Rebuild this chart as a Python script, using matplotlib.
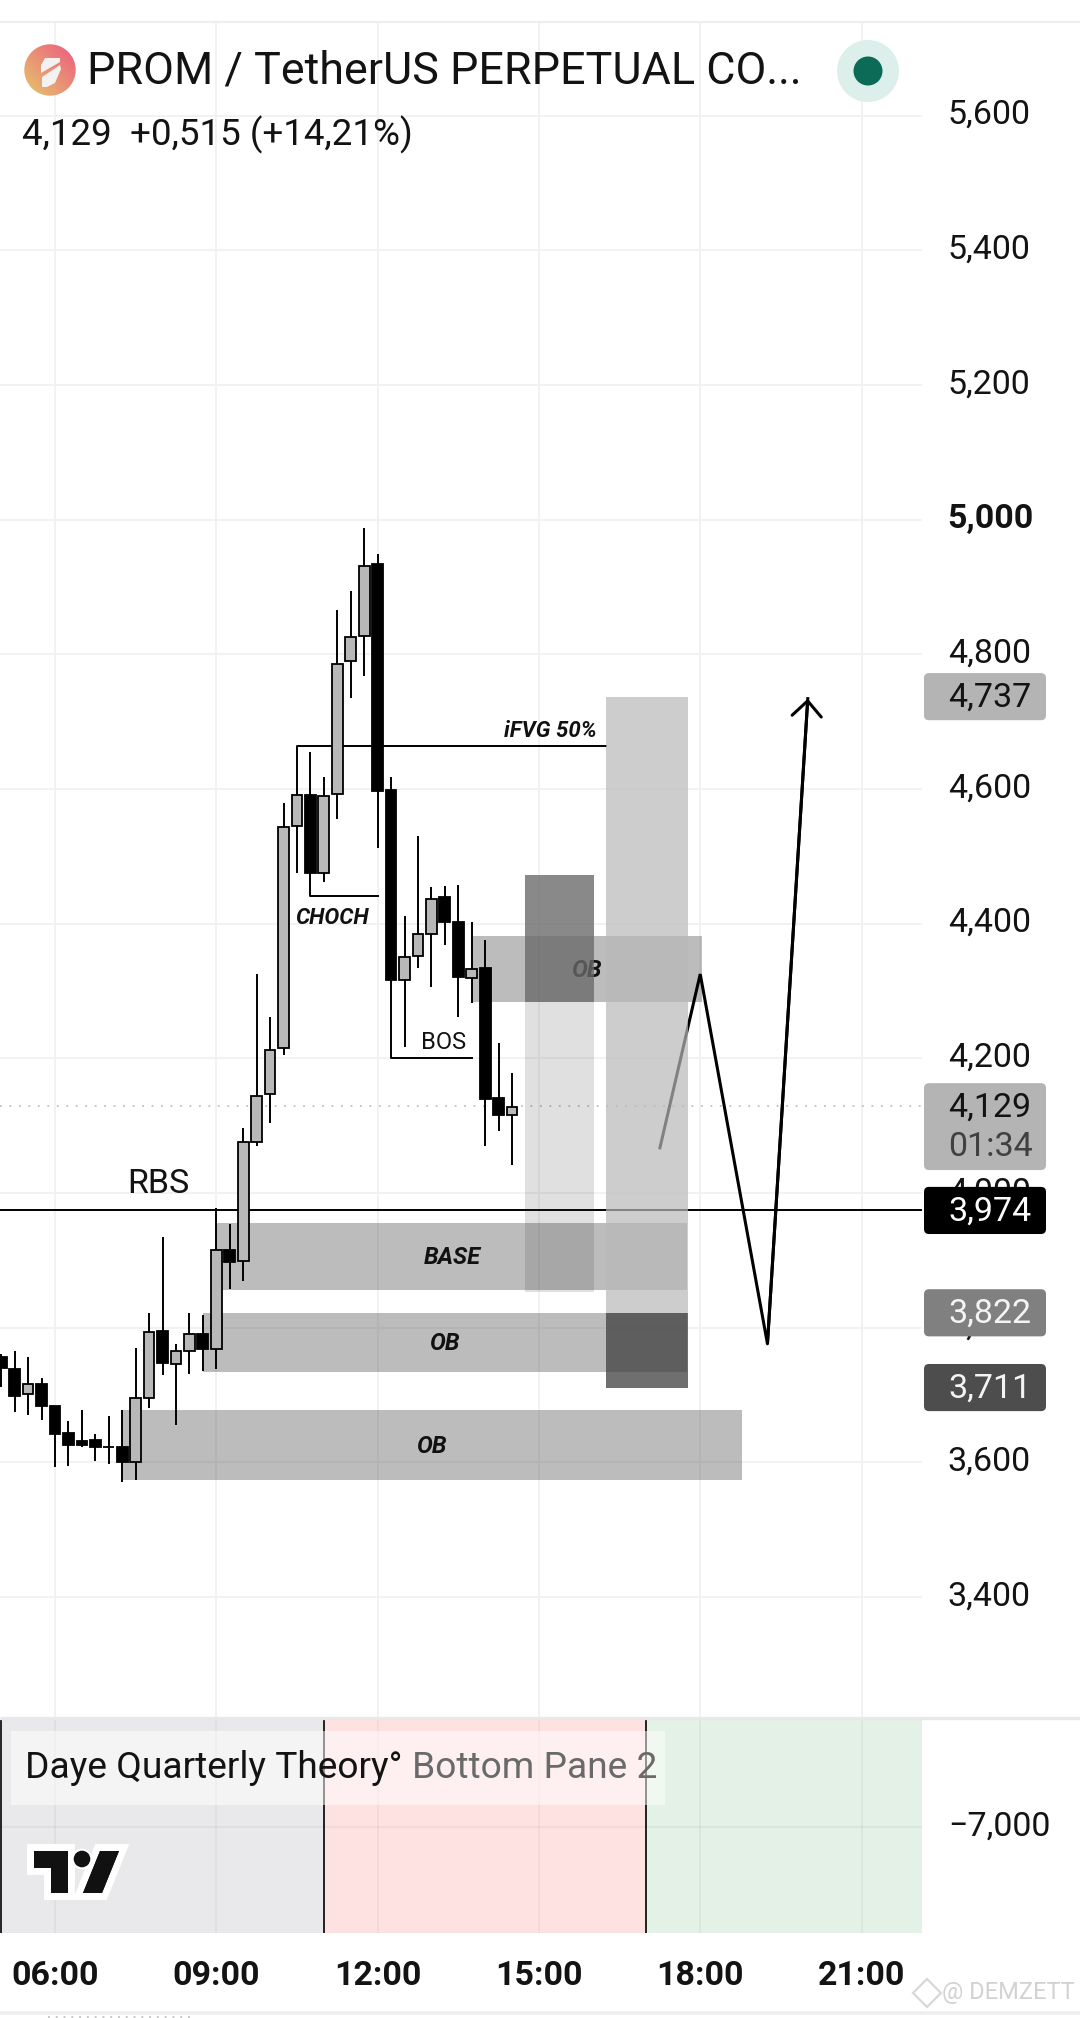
import numpy as np
import matplotlib
matplotlib.use("Agg")
import matplotlib.pyplot as plt
import matplotlib.patheffects as pe
from matplotlib.patches import Circle, FancyBboxPatch, Polygon, Rectangle
from matplotlib.transforms import ScaledTranslation

plt.rcParams["font.family"] = ["Roboto", "DejaVu Sans"]

W, H = 1080, 2018
TEXT = "#131313"

# 15 minute candles, x is hour of day
candle_hours = [5.0, 5.25, 5.5, 5.75, 6.0, 6.25, 6.5, 6.75, 7.0, 7.25, 7.5, 7.75,
                8.0, 8.25, 8.5, 8.75, 9.0, 9.25, 9.5, 9.75, 10.0, 10.25, 10.5, 10.75,
                11.0, 11.25, 11.5, 11.75, 12.0, 12.25, 12.5, 12.75, 13.0, 13.25,
                13.5, 13.75, 14.0, 14.25, 14.5]
opens = [3756, 3739, 3702, 3716, 3684, 3644, 3631, 3633, 3622, 3622, 3601, 3696,
         3795, 3746, 3765, 3790, 3768, 3915, 3899, 4076, 4147, 4215, 4545, 4591,
         4475, 4592, 4790, 4827, 4934, 4598, 4316, 4352, 4385, 4439,
         4403, 4319, 4334, 4141, 4115]
closes = [3740, 3699, 3717, 3684, 3642, 3625, 3626, 3623, 3623, 3601, 3696, 3794,
          3747, 3766, 3790, 3768, 3916, 3897, 4075, 4144, 4212, 4544, 4591, 4475,
          4590, 4786, 4826, 4931, 4597, 4316, 4351, 4384, 4437, 4403,
          4320, 4333, 4140, 4115, 4127]
highs = [3761, 3765, 3756, 3725, 3684, 3661, 3678, 3642, 3669, 3677, 3769, 3821,
         3934, 3776, 3821, 3819, 3978, 3954, 4096, 4325, 4261, 4579, 4591, 4655,
         4617, 4866, 4894, 4988, 4949, 4617, 4411, 4530, 4454, 4456,
         4457, 4403, 4375, 4223, 4178]
lows = [3712, 3674, 3670, 3663, 3593, 3595, 3622, 3602, 3597, 3571, 3573, 3681,
        3730, 3655, 3731, 3735, 3739, 3857, 3869, 4070, 4104, 4205, 4475, 4475,
        4462, 4555, 4735, 4768, 4512, 4316, 4217, 4334, 4306, 4368,
        4262, 4282, 4070, 4092, 4042]

# zones: start hour, end hour, bottom price, top price
ob_zones = [(7.25, 18.77, 3573, 3678),
            (8.75, 17.75, 3734, 3821),
            (9.0, 17.75, 3856, 3955),
            (13.75, 18.03, 4283, 4381)]
zone_labels = ["OB", "OB", "BASE", "OB"]
zone_label_x = [12.99, 13.24, 13.38, 15.89]
zone_label_y = [3623, 3776, 3904, 4330]

left_tool_x = (14.74, 16.02)
left_tool_prices = (3853, 4283, 4472)
right_tool_x = (16.25, 17.77)
right_tool_prices = (3711, 3822, 4737)

path_hours = [17.25, 18.0, 19.25, 20.0]
path_prices = [4067, 4325, 3776, 4734]

rbs_price = 3974
last_price = 4129
ifvg_x = [10.5, 10.5, 16.25]
ifvg_y = [4591, 4663, 4663]
choch_x = [10.75, 10.75, 12.0]
choch_y = [4475, 4441, 4441]
bos_x = [12.25, 12.25, 13.75]
bos_y = [4316, 4201, 4201]

price_ticks = [5600, 5400, 5200, 5000, 4800, 4600, 4400, 4200, 4000, 3800, 3600, 3400]
time_ticks = [6, 9, 12, 15, 18, 21]
time_labels = ["06:00", "09:00", "12:00", "15:00", "18:00", "21:00"]

session_edges = [5, 11, 17, 22.2]
session_colors = ["#e9e9eb", "#fee2e2", "#e3f1e6"]

price_tags = [(4737, "4,737", "#b4b4b4", TEXT), (3974, "3,974", "#000000", "#ffffff"),
              (3822, "3,822", "#808080", "#f4f4f4"), (3711, "3,711", "#4d4d4d", "#f4f4f4")]

# pixel calibration
PX_PER_HOUR = 53.77
PX_PER_PRICE = 0.6734
PANE_R = 922
TOP, MAIN_B = 22, 1718
SUB_T, SUB_B = 1720, 1933
x0 = 6 - 55 / PX_PER_HOUR
x1 = 6 + (PANE_R - 55) / PX_PER_HOUR
y_top = 5600 + (115.5 - TOP) / PX_PER_PRICE
y_bot = 5600 - (MAIN_B - 115.5) / PX_PER_PRICE

fig = plt.figure(figsize=(W / 100, H / 100), dpi=100, facecolor="white")
# scale labels sit a little above their gridline
lift = ScaledTranslation(0, 4 / 100, fig.dpi_scale_trans)


def add_axes_px(left, top, right, bottom, **kw):
    return fig.add_axes([left / W, 1 - bottom / H, (right - left) / W, (bottom - top) / H], **kw)


ax = add_axes_px(0, TOP, PANE_R, MAIN_B)
ax.set_xlim(x0, x1)
ax.set_ylim(y_bot, y_top)
for s in ax.spines.values():
    s.set_visible(False)
ax.set_xticks(time_ticks)
ax.set_xticklabels([])
ax.set_yticks(price_ticks)
ax.yaxis.tick_right()
ax.set_yticklabels([f"{p:,}" for p in price_ticks], fontsize=24.5, color=TEXT)
ax.tick_params(length=0)
ax.tick_params(axis="y", pad=18.5)
for p, tick in zip(price_ticks, ax.yaxis.get_major_ticks()):
    tick.label2.set_transform(tick.label2.get_transform() + lift)
    if p == 5000:
        tick.label2.set_fontweight("bold")
ax.grid(True, color="#f1f1f1", lw=1.3)
ax.set_axisbelow(True)

# zones sit under the candles
for (a, b, lo, hi) in ob_zones:
    ax.add_patch(Rectangle((a, lo), b - a, hi - lo, fc="#646464", alpha=0.43, lw=0, zorder=2))
for name, zx, zy in zip(zone_labels, zone_label_x, zone_label_y):
    ax.text(zx, zy, name, fontsize=17, fontweight="bold", fontstyle="italic", color="#111111",
            ha="center", va="center", zorder=3)

ax.axhline(last_price, color="#b5b5b5", lw=1.1, ls=(0, (1.2, 5)), zorder=3)
ax.axhline(rbs_price, color="black", lw=1.4, zorder=3)
ax.plot(path_hours, path_prices, color="black", lw=2.2, solid_joinstyle="miter", zorder=6)
ax.annotate("", xy=(path_hours[-1], path_prices[-1]), xytext=(path_hours[-2], path_prices[-2]),
            arrowprops=dict(arrowstyle="->,head_length=11,head_width=10.5", color="black", lw=2.2,
                            mutation_scale=1, shrinkA=0, shrinkB=0), zorder=6)

ax.plot(ifvg_x, ifvg_y, color="black", lw=1.4, zorder=3)
ax.plot(choch_x, choch_y, color="black", lw=1.4, zorder=3)
ax.plot(bos_x, bos_y, color="black", lw=1.4, zorder=3)

# candles
hours = np.array(candle_hours)
o, c = np.array(opens), np.array(closes)
up = c > o
ax.vlines(hours, lows, highs, color="black", lw=1.4, zorder=4)
ax.bar(hours, np.abs(c - o), width=0.2, bottom=np.minimum(o, c),
       color=["#b8b8b8" if u else "black" for u in up], edgecolor="black", lw=1.3, zorder=5)

# position tools go over everything else, arrow shows dim through them
t_lo, t_mid, t_hi = left_tool_prices
ax.add_patch(Rectangle((left_tool_x[0], t_mid), np.diff(left_tool_x)[0], t_hi - t_mid,
                       fc="#6a6a6a", alpha=0.79, lw=0, zorder=7))
ax.add_patch(Rectangle((left_tool_x[0], t_lo), np.diff(left_tool_x)[0], t_mid - t_lo,
                       fc="#323232", alpha=0.15, lw=0, zorder=7))
t_lo, t_mid, t_hi = right_tool_prices
ax.add_patch(Rectangle((right_tool_x[0], t_mid), np.diff(right_tool_x)[0], t_hi - t_mid,
                       fc="#b9b9b9", alpha=0.7, lw=0, zorder=7))
ax.add_patch(Rectangle((right_tool_x[0], t_lo), np.diff(right_tool_x)[0], t_mid - t_lo,
                       fc="#3d3d3d", alpha=0.74, lw=0, zorder=7))

ax.text(7.92, 4013, "RBS", fontsize=24.5, color=TEXT, ha="center", va="center", zorder=8)
ax.text(15.22, 4686, "iFVG 50%", fontsize=16, fontweight="bold", fontstyle="italic", color="#111111",
        ha="center", va="center", zorder=8)
ax.text(11.15, 4409, "CHOCH", fontsize=16, fontweight="bold", fontstyle="italic", color="#111111",
        ha="center", va="center", zorder=8)
ax.text(13.22, 4224, "BOS", fontsize=17, color=TEXT, ha="center", va="center", zorder=8)

# bottom pane
sub = add_axes_px(0, SUB_T, PANE_R, SUB_B)
sub.set_xlim(x0, x1)
sub.set_ylim(-8063, -5933)
for s in sub.spines.values():
    s.set_visible(False)
for i, col in enumerate(session_colors):
    sub.axvspan(session_edges[i], session_edges[i + 1], color=col, lw=0, zorder=0)
sub.vlines(session_edges[:3], -8063, -5933, color="black", lw=1.2, zorder=2)
sub.set_xticks(time_ticks)
sub.set_xticklabels(time_labels, fontsize=24.5, fontweight="bold", color=TEXT)
sub.set_yticks([-7000])
sub.yaxis.tick_right()
sub.set_yticklabels(["\u22127,000"], fontsize=24.5, color=TEXT)
sub.tick_params(length=0)
sub.tick_params(axis="y", pad=19)
sub.tick_params(axis="x", pad=19.5)
for tick in sub.yaxis.get_major_ticks():
    tick.label2.set_transform(tick.label2.get_transform() + lift)
sub.grid(True, color="#000000", alpha=0.045, lw=1.3, zorder=1)
sub.set_axisbelow(False)

# price tags on the scale, same y scale as the main pane
scale = add_axes_px(PANE_R, TOP, W, MAIN_B)
scale.set_xlim(PANE_R, W)
scale.set_ylim(y_bot, y_top)
scale.axis("off")
asp = 1 / PX_PER_PRICE
for price, label, bg, fg in price_tags:
    scale.add_patch(FancyBboxPatch((924, price - 35), 122, 70, mutation_aspect=asp, fc=bg, lw=0,
                                   boxstyle="round,pad=0,rounding_size=5"))
    scale.text(948, price + 4, label, fontsize=24.5, color=fg, ha="left", va="center_baseline")
scale.add_patch(FancyBboxPatch((924, last_price - 95), 122, 129, mutation_aspect=asp, fc="#b4b4b4", lw=0,
                               boxstyle="round,pad=0,rounding_size=5"))
scale.text(948, last_price + 3, "4,129", fontsize=24.5, color=TEXT, ha="left", va="center_baseline")
scale.text(948, last_price - 56, "01:34", fontsize=24.5, color="#404040", ha="left", va="center_baseline")

# header and other chrome in pixel coordinates
ui = fig.add_axes([0, 0, 1, 1])
ui.set_xlim(0, W)
ui.set_ylim(H, 0)
ui.axis("off")
ui.hlines(22, 0, W, color="#eeeeee", lw=1.6)
ui.hlines(1718, 0, W, color="#e8e8e8", lw=2.4)
ui.hlines(2013, 0, W, color="#eeeeee", lw=2.6)
ui.hlines(2017, 48, 193, color="#c8c8c8", lw=1.4, ls=(0, (1, 3)))

# coin logo, gradient clipped to a circle
grad = np.linspace(0, 1, 64)
gx, gy = np.meshgrid(grad, grad)
mix = np.clip((gx + (1 - gy)) / 2, 0, 1)
rgb = np.dstack([(1 - mix) * a + mix * b for a, b in zip((0.90, 0.78, 0.42), (0.93, 0.35, 0.50))])
im = ui.imshow(rgb, extent=(24, 76, 96, 44), aspect="auto", zorder=2)
im.set_clip_path(Circle((50, 70), 25.7, transform=ui.transData))
ui.set_xlim(0, W)
ui.set_ylim(H, 0)
ui.add_patch(Polygon([(41, 65), (45, 58), (60, 58), (60, 62), (41, 73)], fc="#f4f1f1", lw=0, zorder=3))
ui.add_patch(Polygon([(42, 87), (42, 77), (60, 65), (61, 69), (55, 83), (47, 87)], fc="#f4f1f1", lw=0, zorder=3))

ui.text(87, 72, "PROM / TetherUS PERPETUAL CO...", fontsize=32.3, color=TEXT, ha="left", va="center", zorder=3)
ui.text(22, 135, "4,129  +0,515 (+14,21%)", fontsize=26.5, color=TEXT, ha="left", va="center", zorder=3)
ui.add_patch(Circle((868, 71), 31, fc="#dcefeb", lw=0))
ui.add_patch(Circle((868, 71), 14.5, fc="#0b6b57", lw=0))

ui.add_patch(Rectangle((11, 1731), 654, 74, fc="white", alpha=0.5, lw=0))
t = ui.text(25, 1768, "Daye Quarterly Theory\u00b0", fontsize=26.7, color=TEXT, ha="left", va="center")
ui.figure.canvas.draw()
bb = t.get_window_extent()
ui.text(bb.x1 + 9, 1768, "Bottom Pane 2", fontsize=26.7, color="#6a6a6a", ha="left", va="center")

# tradingview mark with white halo
halo = [pe.withStroke(linewidth=10, foreground="white")]
logo_t = [(34, 1851), (68, 1851), (68, 1893), (51, 1893), (51, 1868), (34, 1868)]
logo_s = [(100, 1851), (119, 1851), (102, 1893), (83, 1893)]
for pts in (logo_t, logo_s):
    ui.add_patch(Polygon(pts, fc="#111111", lw=0, path_effects=halo, joinstyle="miter"))
ui.add_patch(Circle((82, 1859), 8.3, fc="#111111", lw=0, path_effects=[pe.withStroke(linewidth=3, foreground="white")]))
for pts in (logo_t, logo_s):
    ui.add_patch(Polygon(pts, fc="#111111", lw=0))

ui.plot([927], [1993], marker="D", ms=14, mfc="none", mec="#d8d8d8", mew=1.6)
ui.text(942, 1993, "@ DEMZETT", fontsize=17, color="#d2d2d2", ha="left", va="center")

fig.savefig("out.png", dpi=100)
